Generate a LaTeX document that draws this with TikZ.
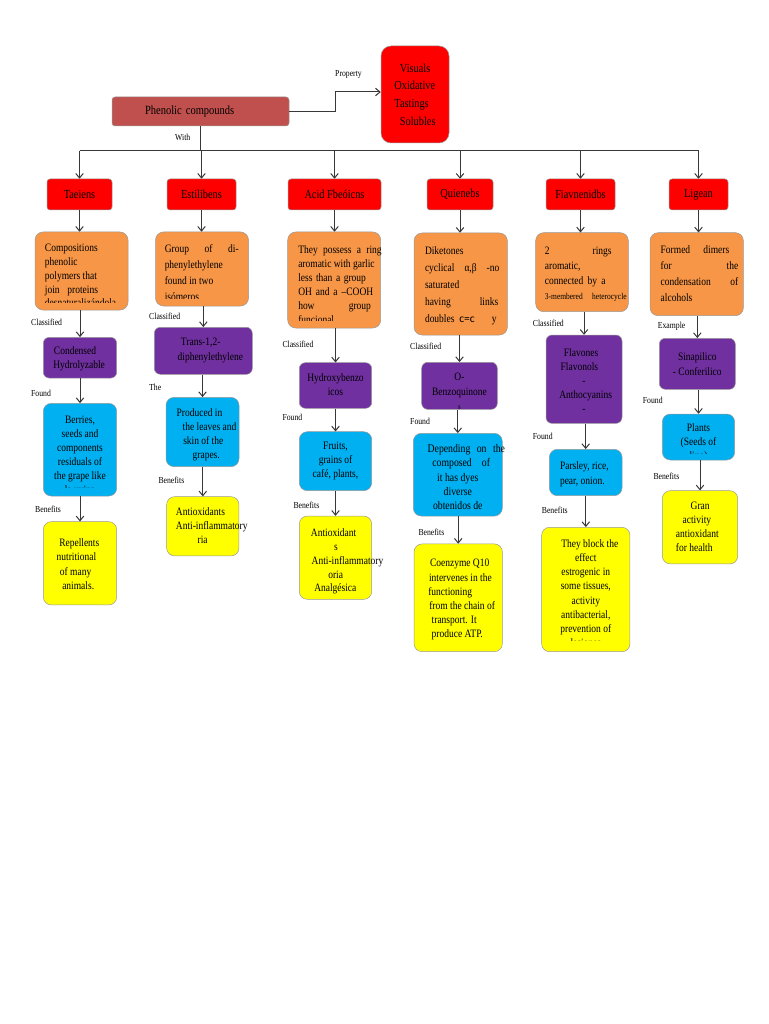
\documentclass[tikz,border=0pt]{standalone}
\usepackage{fontspec}
\setmainfont{Liberation Serif}[FakeStretch=0.84]
\newfontfamily\calibri{Carlito}
\usetikzlibrary{arrows.meta}

\definecolor{pcred}{HTML}{C0504D}
\definecolor{catred}{HTML}{FF0000}
\definecolor{descorange}{HTML}{F79646}
\definecolor{classpurple}{HTML}{7030A0}
\definecolor{foundblue}{HTML}{00B0F0}
\definecolor{benyellow}{HTML}{FFFF00}

\tikzset{
  line/.style={draw=black!78, line width=1pt},
  arr/.style={line, -{Straight Barb[length=4.5pt,width=7.5pt]}},
  lbl/.style={inner sep=0pt, anchor=west, font=\fontsize{9.2}{10}\selectfont},
  box/.style={draw=black!40, line width=0.5pt, inner sep=0pt, rounded corners=8pt},
  pcbox/.style={box, fill=pcred, rounded corners=3pt, inner xsep=33pt, inner ysep=0pt,
    text width=111pt, minimum height=29pt, align=left, font=\fontsize{12.5}{13}\selectfont},
  visbox/.style={box, fill=catred, rounded corners=10pt, align=left, font=\fontsize{12.3}{17.6}\selectfont},
  catbox/.style={box, fill=catred, rounded corners=3pt, minimum height=31pt, font=\fontsize{12.3}{13}\selectfont},
  descbox/.style={box, fill=descorange},
  classbox/.style={box, fill=classpurple, rounded corners=6pt},
  foundbox/.style={box, fill=foundblue},
  benbox/.style={box, fill=benyellow},
  txt/.style={inner sep=0pt, align=left, font=\fontsize{11.3}{14}\selectfont},
}

% text of a box, cut off above the bottom border
\newcommand{\cuttxt}[5]{%
  \begin{scope}
    \clip ([xshift=-30pt]#1.north west) rectangle ([xshift=30pt,yshift=#2]#1.south east);
    \node[txt, #3] (#1t) at #4 {#5};
  \end{scope}}

\begin{document}
\begin{tikzpicture}[x=1pt,y=-1pt]
\fill[white] (0,0) rectangle (768,1024);
\useasboundingbox (0,0) rectangle (768,1024);

% top
\node[pcbox] (pc) at (200.5,111.5) {Phenolic compounds};
\node[visbox, minimum width=68pt, minimum height=97pt] (vis) at (415,94.5) {\hspace*{5.5pt}Visuals\\Oxidative\\Tastings\\\hspace*{5.5pt}Solubles};
\draw[arr] (pc.east) -- ++(46,0) |- ([yshift=2.5pt]vis.west);
\node[lbl] (lprop) at (335,74) {Property};
\coordinate (bus) at (0,151);
\draw[line] (pc.south) -- (pc.south |- bus);
\node[lbl] (lwith) at (175,137.3) {With};

% families
\node[catbox, minimum width=65pt] (c1) at (79.5,194.5) {Taeiens};
\node[catbox, minimum width=69pt] (c2) at (201.5,194.5) {Estilibens};
\node[catbox, minimum width=93pt] (c3) at (334.5,194.5) {Acid Fbeóicns};
\node[catbox, minimum width=66pt] (c4) at (460,194.5) {Quienebs};
\node[catbox, minimum width=69pt] (c5) at (580.5,194.5) {Fiavnenidbs};
\node[catbox, minimum width=59pt] (c6) at (698.5,194.5) {Ligean};
\draw[line] (c1.north |- bus) -- (c6.north |- bus);

% column 1
\node[descbox, minimum width=93pt, minimum height=78pt] (o1) at (81.5,271) {};
\node[classbox, minimum width=73.4pt, minimum height=40.7pt] (p1) at (80,357.7) {};
\node[foundbox, minimum width=73.4pt, minimum height=92.7pt] (b1) at (80,449.7) {};
\node[benbox, minimum width=73.4pt, minimum height=83.3pt] (y1) at (80,563.3) {};
\cuttxt{o1}{8pt}{anchor=north west, font=\fontsize{11.3}{13.7}\selectfont}{([xshift=10pt,yshift=-12.5pt]o1.north west)}{Compositions\\phenolic\\polymers that\\\makebox[53pt][s]{join proteins}\\desnaturalizándola}
\node[txt, anchor=north west] (p1t) at ([xshift=10pt,yshift=-9.5pt]p1.north west) {\hspace*{0.7pt}Condensed\\Hydrolyzable};
\cuttxt{b1}{8.5pt}{anchor=north, align=center, font=\fontsize{11.3}{13.9}\selectfont}{([yshift=-12.8pt]b1.north)}{Berries,\\seeds and\\components\\residuals of\\the grape like\\la uvina}
\node[txt, anchor=north west, font=\fontsize{11.3}{14.4}\selectfont] (y1t) at ([xshift=13.4pt,yshift=-16.8pt]y1.north west) {\hspace*{2.6pt}Repellents\\nutritional\\\hspace*{3.3pt}of many\\\hspace*{5.6pt}animals.};
\node[lbl] (l1a) at (31,322.7) {Classified};
\node[lbl] (l1b) at (31,393.3) {Found};
\node[lbl] (l1c) at (35,509.3) {Benefits};

% column 2
\node[descbox, minimum width=93pt, minimum height=74pt] (o2) at (202,269) {};
\node[classbox, minimum width=98pt, minimum height=47pt] (p2) at (203.3,350.8) {};
\node[foundbox, minimum width=73pt, minimum height=69.3pt] (b2) at (202.5,432) {};
\node[benbox, minimum width=72.3pt, minimum height=59.3pt] (y2) at (202.8,526.3) {};
\cuttxt{o2}{7.7pt}{anchor=north west, font=\fontsize{11.3}{16.1}\selectfont}{([xshift=9.3pt,yshift=-12.2pt]o2.north west)}{\makebox[74pt][s]{Group of di-}\\phenylethylene\\found in two\\isómeros}
\node[txt, anchor=north west, font=\fontsize{11.3}{15.7}\selectfont] (p2t) at ([xshift=23.4pt,yshift=-10.5pt]p2.north west) {\hspace*{3.3pt}Trans-1,2-\\diphenylethylene};
\node[txt, anchor=north west, font=\fontsize{11.3}{14.1}\selectfont] (b2t) at ([xshift=10.7pt,yshift=-11.2pt]b2.north west) {Produced in\\\hspace*{6pt}the leaves and\\\hspace*{6.6pt}skin of the\\\hspace*{16pt}grapes.};
\node[txt, anchor=north west] (y2t) at ([xshift=9.3pt,yshift=-11.1pt]y2.north west) {Antioxidants\\Anti-inflammatory\\\hspace*{21.7pt}ria};
\node[lbl] (l2a) at (149,316) {Classified};
\node[lbl] (l2b) at (149,387.7) {The};
\node[lbl] (l2c) at (158.3,480) {Benefits};

% column 3
\node[descbox, minimum width=93pt, minimum height=96pt] (o3) at (334.2,280) {};
\node[classbox, minimum width=72.4pt, minimum height=45.6pt] (p3) at (335.5,385.5) {};
\node[foundbox, minimum width=72.4pt, minimum height=59pt] (b3) at (335.5,461.2) {};
\node[benbox, minimum width=72.4pt, minimum height=83.3pt] (y3) at (335.5,557.7) {};
\cuttxt{o3}{7.3pt}{anchor=north west}{([xshift=10.6pt,yshift=-13.8pt]o3.north west)}{\makebox[83.4pt][s]{They possess a ring}\\aromatic with garlic\\\makebox[67.7pt][s]{less than a group}\\\makebox[75pt][s]{OH and a –COOH}\\\makebox[72.7pt][s]{how group}\\funcional}
\node[txt, anchor=north, align=center, font=\fontsize{11.3}{14.3}\selectfont] (p3t) at ([yshift=-10.8pt]p3.north) {Hydroxybenzo\\icos};
\node[txt, anchor=north, align=center, font=\fontsize{11.3}{14.2}\selectfont] (b3t) at ([yshift=-10.1pt]b3.north) {Fruits,\\grains of\\café, plants,};
\node[txt, anchor=north west, font=\fontsize{11.3}{13.9}\selectfont] (y3t) at ([xshift=11.7pt,yshift=-12.5pt]y3.north west) {Antioxidant\\\hspace*{23.2pt}s\\\hspace*{0.7pt}Anti-inflammatory\\\hspace*{17.3pt}oria\\\hspace*{3.3pt}Analgésica};
\node[lbl] (l3a) at (282.3,344) {Classified};
\node[lbl] (l3b) at (282.3,417.3) {Found};
\node[lbl] (l3c) at (293.3,505) {Benefits};

% column 4
\node[descbox, minimum width=93.3pt, minimum height=102pt] (o4) at (460.7,284) {};
\node[classbox, minimum width=75.6pt, minimum height=47pt] (p4) at (459.5,385.8) {};
\node[foundbox, minimum width=89pt, minimum height=82.7pt] (b4) at (457.8,474.7) {};
\node[benbox, minimum width=88.3pt, minimum height=107.7pt] (y4) at (458.2,597.8) {};
\node[txt, anchor=north west, font=\fontsize{11.3}{16.8}\selectfont] (o4t) at ([xshift=11pt,yshift=-14.1pt]o4.north west) {Diketones\\\makebox[74.3pt][s]{cyclical α,β -no}\\saturated\\\makebox[73.3pt][s]{having links}\\\makebox[71.7pt][l]{doubles\ \ {\calibri\fontsize{11.5}{12}\selectfont c=c}\hfill y}};
\node[txt, anchor=north, align=center, font=\fontsize{11.3}{14.3}\selectfont] (p4t) at ([yshift=-11.2pt]p4.north) {O-\\Benzoquinone\\{\fontsize{7.7}{8}\selectfont s}};
\node[txt, anchor=north, align=center, font=\fontsize{11.6}{14.3}\selectfont] (b4t) at ([yshift=-11.2pt]b4.north) {\hspace*{17pt}\makebox[77.3pt][s]{Depending on the}\\\hspace*{6.8pt}\makebox[57.7pt][s]{composed of}\\it has dyes\\diverse\\obtenidos de};
\node[txt, anchor=north west, font=\fontsize{11.3}{14.1}\selectfont] (y4t) at ([xshift=14.3pt,yshift=-15.5pt]y4.north west) {\hspace*{1.7pt}Coenzyme Q10\\\hspace*{0.7pt}intervenes in the\\functioning\\\hspace*{1pt}from the chain of\\\hspace*{3.4pt}transport. It\\\hspace*{3.4pt}produce ATP.};
\node[lbl] (l4a) at (410,346) {Classified};
\node[lbl] (l4b) at (410,421.7) {Found};
\node[lbl] (l4c) at (418.3,532.3) {Benefits};

% column 5
\node[descbox, minimum width=92.6pt, minimum height=79pt] (o5) at (582,272.2) {};
\node[classbox, minimum width=76pt, minimum height=88.3pt] (p5) at (584,379.2) {};
\node[foundbox, minimum width=72.7pt, minimum height=46.4pt] (b5) at (585.7,472.5) {};
\node[benbox, minimum width=88.3pt, minimum height=124.4pt] (y5) at (585.8,589.5) {};
\node[txt, anchor=north west, font=\fontsize{11.3}{15.2}\selectfont] (o5t) at ([xshift=9.3pt,yshift=-14.1pt]o5.north west) {\makebox[66.7pt][s]{2 rings}\\aromatic,\\\makebox[60.7pt][s]{connected by a}\\{\fontsize{8.9}{9}\selectfont\makebox[81.7pt][s]{3-membered heterocycle}}};
\node[txt, anchor=north west] (p5t) at ([xshift=13.3pt,yshift=-13.5pt]p5.north west) {\hspace*{4.7pt}Flavones\\\hspace*{1.4pt}Flavonols\\\hspace*{23pt}-\\Anthocyanins\\\hspace*{23pt}-};
\node[txt, anchor=north west, font=\fontsize{11.3}{15}\selectfont] (b5t) at ([xshift=10.7pt,yshift=-12.5pt]b5.north west) {Parsley, rice,\\pear, onion.};
\cuttxt{y5}{11.7pt}{anchor=north, align=center, font=\fontsize{11.3}{14.2}\selectfont}{([yshift=-12.2pt]y5.north)}{\hspace*{8pt}They block the\\effect\\estrogenic in\\some tissues,\\activity\\antibacterial,\\prevention of\\lesiones}
\node[lbl] (l5a) at (532.7,323.3) {Classified};
\node[lbl] (l5b) at (532.7,436.7) {Found};
\node[lbl] (l5c) at (541.7,510.7) {Benefits};

% column 6
\node[descbox, minimum width=93.3pt, minimum height=83pt] (o6) at (696.7,274.2) {};
\node[classbox, minimum width=76pt, minimum height=51pt] (p6) at (697.3,363.8) {};
\node[foundbox, minimum width=72.4pt, minimum height=46pt] (b6) at (698.5,437) {};
\node[benbox, minimum width=75.4pt, minimum height=73.3pt] (y6) at (700,527.3) {};
\node[txt, anchor=north west, font=\fontsize{11.3}{15.8}\selectfont] (o6t) at ([xshift=10.7pt,yshift=-13.4pt]o6.north west) {\makebox[68.6pt][s]{Formed dimers}\\\makebox[77.6pt][s]{for the}\\\makebox[77.6pt][s]{condensation of}\\alcohols};
\node[txt, anchor=north, align=center, font=\fontsize{11.3}{14.7}\selectfont] (p6t) at ([yshift=-14.5pt]p6.north) {Sinapilico\\- Conferilico};
\cuttxt{b6}{6.5pt}{anchor=north, align=center, font=\fontsize{11.3}{13.7}\selectfont}{([yshift=-10.1pt]b6.north)}{Plants\\(Seeds of\\lino)}
\node[txt, anchor=north west, font=\fontsize{11.3}{14.1}\selectfont] (y6t) at ([xshift=13.7pt,yshift=-11.1pt]y6.north west) {\hspace*{14.7pt}Gran\\\hspace*{6.7pt}activity\\antioxidant\\for health};
\node[lbl] (l6a) at (657.7,326) {Example};
\node[lbl] (l6b) at (642.7,400.7) {Found};
\node[lbl] (l6c) at (653.3,476) {Benefits};

% connectors
\foreach \i in {1,...,6}{
  \draw[arr] (c\i.north |- bus) -- (c\i.north);
  \draw[arr] (c\i.south) -- (c\i.south |- o\i.north);
  \draw[arr] (p\i.north |- o\i.south) -- (p\i.north);
  \draw[arr] (b\i.north |- p\i.south) -- (b\i.north);
  \draw[arr] (y\i.north |- b\i.south) -- (y\i.north);
}
\end{tikzpicture}
\end{document}
